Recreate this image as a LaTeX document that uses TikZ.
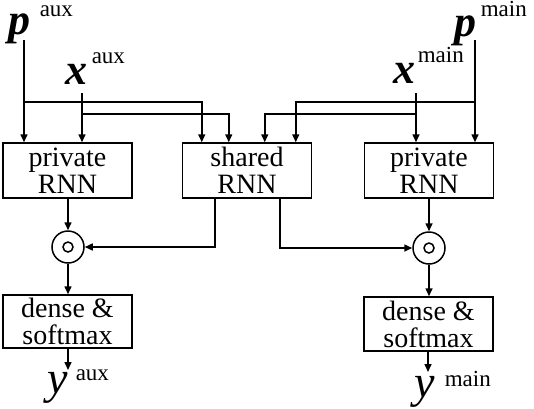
\documentclass[tikz,border=0pt]{standalone}
\usepackage{fontspec}
\setmainfont{Liberation Serif}
\usetikzlibrary{arrows.meta}
\begin{document}
\begin{tikzpicture}[x=1pt,y=-1pt,line width=1.5pt,
  arr/.style={-{Triangle[length=8pt,width=7pt]}},
  blk/.style={draw,line width=1.5pt,minimum width=129pt,minimum height=55pt,inner sep=0pt,align=center,font=\fontsize{28}{27}\selectfont},
  mult/.style={draw,circle,line width=1.5pt,minimum size=32pt,inner sep=0pt},
  bsym/.style={anchor=base west,inner sep=0pt,font=\fontsize{44}{44}\selectfont\bfseries\itshape},
  isym/.style={anchor=base west,inner sep=0pt,font=\fontsize{46}{46}\selectfont\itshape},
  sup/.style={anchor=base west,inner sep=0pt,font=\fontsize{23}{23}\selectfont}]
\useasboundingbox (0,0) rectangle (534,408);
% boxes
\node[blk] (privA) at (67.5,170.5) {private\\RNN};
\node[blk] (shared) at (247,170.5) {shared\\RNN};
\node[blk] (privM) at (429,170.5) {private\\RNN};
\node[blk,minimum height=53pt] (denseA) at (67.5,321.5) {dense \&\\softmax};
\node[blk,minimum height=54pt] (denseM) at (428.5,324) {dense \&\\softmax};
% multipliers
\node[mult] (mA) at (68,247) {};
\node[mult] (mM) at (429,248) {};
\draw (mA) circle (5pt);
\draw (mM) circle (5pt);
% labels
\node[bsym] (pA) at (8,34) {p};
\node[sup] (pAs) at (39,16) {aux};
\node[bsym] (xA) at (65,84) {x};
\node[sup] (xAs) at (91,63) {aux};
\node[bsym] (pM) at (454,36) {p};
\node[sup] (pMs) at (480,16) {main};
\node[bsym] (xM) at (393,83) {x};
\node[sup] (xMs) at (417,62) {main};
\node[isym] (yA) at (47,393) {y};
\node[sup] (yAs) at (75,380) {aux};
\node[isym] (yM) at (414,397) {y};
\node[sup] (yMs) at (444,386) {main};
% source coordinates
\coordinate (pAsrc) at (24,40);
\coordinate (xAsrc) at (82,93);
\coordinate (pMsrc) at (475,40);
\coordinate (xMsrc) at (416,93);
\coordinate (yAend) at (68,370);
\coordinate (yMend) at (428,372);
% inputs
\draw[arr] (pAsrc) -- (pAsrc |- privA.north);
\draw[arr] (xAsrc) -- (xAsrc |- privA.north);
\draw[arr] (pMsrc) -- (pMsrc |- privM.north);
\draw[arr] (xMsrc) -- (xMsrc |- privM.north);
\draw[arr] (24,102) -| ([xshift=20pt]shared.north west);
\draw[arr] (82,114) -| ([xshift=47pt]shared.north west);
\draw[arr] (475,102) -| ([xshift=114pt]shared.north west);
\draw[arr] (416,114) -| ([xshift=83pt]shared.north west);
% to multipliers
\draw[arr] (privA.south -| mA) -- (mA.north);
\draw[arr] (privM.south -| mM) -- (mM.north);
\draw[arr] ([xshift=33pt]shared.south west) |- (mA.east);
\draw[arr] ([xshift=98pt]shared.south west) |- (mM.west);
% to dense
\draw[arr] (mA.south) -- (mA.south |- denseA.north);
\draw[arr] (mM.south) -- (mM.south |- denseM.north);
% outputs
\draw[arr] (denseA.south -| yAend) -- (yAend);
\draw[arr] (denseM.south -| yMend) -- (yMend);
\end{tikzpicture}
\end{document}
